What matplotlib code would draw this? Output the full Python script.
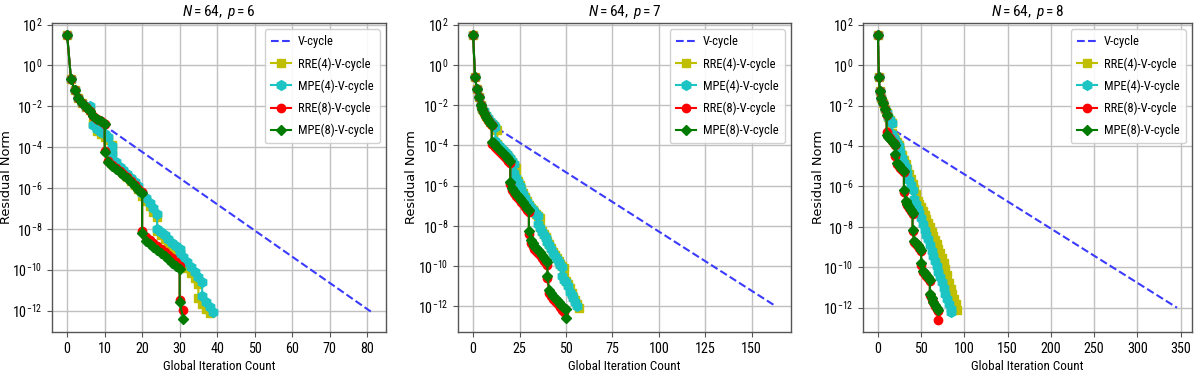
import numpy as np
import matplotlib
matplotlib.use("Agg")
import matplotlib.pyplot as plt
from matplotlib import font_manager

# ---------------- data (log10 of residual norm) ----------------
titles = [r"$N = 64,\ p = 6$", r"$N = 64,\ p = 7$", r"$N = 64,\ p = 8$"]
labels = ["V-cycle", "RRE(4)-V-cycle", "MPE(4)-V-cycle", "RRE(8)-V-cycle", "MPE(8)-V-cycle"]
xticks_list = [[0, 10, 20, 30, 40, 50, 60, 70, 80],
               [0, 25, 50, 75, 100, 125, 150],
               [0, 50, 100, 150, 200, 250, 300, 350]]
ytick_exps = [2, 0, -2, -4, -6, -8, -10, -12]

# ---- p = 6 ----
p6_vc_x = [0, 1, 2, 4, 6, 8, 10, 81]
p6_vc_y = [1.48, -0.65, -1.22, -1.85, -2.25, -2.6, -2.95, -12.05]

p6_rre4_x = [0, 1, 2, 3, 4, 5, 6, 7, 8, 9, 10, 11, 12, 12, 13, 14, 15, 16, 17, 18, 19, 20, 21, 22,
             23, 24, 24, 25, 26, 27, 28, 29, 30, 30, 31, 32, 33, 34, 35, 35, 36, 37, 38]
p6_rre4_y = [1.48, -0.65, -1.22, -1.6, -1.85, -2.05, -2.2, -2.8, -3.2, -3.35, -3.5, -3.65, -3.9,
             -4.3, -4.85, -5.05, -5.25, -5.45, -5.65, -5.85, -6.05, -6.4, -6.65, -6.9, -7.15, -7.4,
             -8.1, -8.3, -8.5, -8.7, -8.9, -9.05, -9.2, -9.4, -9.65, -9.9, -10.15, -10.4, -10.7,
             -11.4, -11.7, -11.9, -12.1]

p6_mpe4_x = [0, 1, 2, 3, 4, 5, 6, 7, 8, 9, 10, 11, 12, 12, 13, 14, 15, 16, 17, 18, 19, 20, 21, 22,
             23, 24, 24, 25, 26, 27, 28, 29, 30, 30, 31, 32, 33, 34, 35, 36, 36, 37, 38, 39]
p6_mpe4_y = [1.48, -0.65, -1.22, -1.6, -1.85, -2.05, -2.0, -2.9, -3.1, -3.25, -3.35, -3.5, -3.95,
             -4.3, -4.75, -4.95, -5.1, -5.3, -5.5, -5.7, -5.9, -6.25, -6.5, -6.75, -7.0, -7.25,
             -8.0, -8.15, -8.3, -8.5, -8.7, -8.85, -9.0, -9.2, -9.4, -9.6, -9.85, -10.1, -10.35,
             -10.6, -11.3, -11.6, -11.85, -12.05]

p6_rre8_x = [0, 1, 2, 3, 4, 5, 6, 7, 8, 9, 10, 10, 11, 12, 13, 14, 15, 16, 17, 18, 19, 20, 20, 21,
             22, 23, 24, 25, 26, 27, 28, 29, 30, 30, 31]
p6_rre8_y = [1.48, -0.65, -1.22, -1.6, -1.85, -2.05, -2.25, -2.45, -2.6, -2.72, -2.85, -4.2, -4.7,
             -4.85, -5.0, -5.15, -5.3, -5.45, -5.65, -5.85, -6.05, -6.2, -8.1, -8.4, -8.55, -8.7,
             -8.85, -9.0, -9.15, -9.3, -9.45, -9.6, -9.8, -11.5, -11.95]

p6_mpe8_x = [0, 1, 2, 3, 4, 5, 6, 7, 8, 9, 10, 10, 11, 12, 13, 14, 15, 16, 17, 18, 19, 20, 20, 21,
             22, 23, 24, 25, 26, 27, 28, 29, 30, 30, 31]
p6_mpe8_y = [1.48, -0.65, -1.22, -1.6, -1.85, -2.05, -2.25, -2.45, -2.6, -2.72, -2.85, -4.25, -4.75,
             -4.9, -5.05, -5.2, -5.35, -5.5, -5.7, -5.9, -6.1, -6.25, -8.2, -8.6, -8.75, -8.9,
             -9.05, -9.2, -9.35, -9.5, -9.65, -9.8, -9.95, -11.6, -12.4]

# ---- p = 7 ----
p7_vc_x = [0, 1, 2, 4, 6, 8, 10, 12, 163]
p7_vc_y = [1.47, -0.6, -1.2, -2.0, -2.4, -2.75, -2.95, -3.1, -12.0]

p7_rre4_x = [0, 1, 2, 3, 4, 5, 6, 7, 8, 9, 10, 11, 12, 13, 13, 14, 15, 16, 17, 18, 19, 20, 21, 22,
             23, 23, 24, 25, 26, 27, 28, 29, 30, 31, 32, 33, 34, 35, 36, 36, 37, 38, 39, 40, 41,
             42, 43, 44, 45, 46, 47, 48, 49, 49, 50, 51, 52, 53, 54, 55, 56, 57]
p7_rre4_y = [1.47, -0.6, -1.2, -1.6, -2.0, -2.2, -2.35, -2.55, -2.7, -2.85, -2.95, -3.05, -3.15,
             -3.25, -3.95, -4.1, -4.2, -4.3, -4.4, -4.5, -4.6, -4.7, -4.85, -5.0, -5.15, -5.55,
             -5.75, -5.95, -6.15, -6.35, -6.55, -6.75, -6.95, -7.1, -7.2, -7.3, -7.4, -7.5, -7.6,
             -8.05, -8.25, -8.4, -8.55, -8.75, -8.9, -9.1, -9.3, -9.45, -9.6, -9.75, -9.9, -10.0,
             -10.1, -10.55, -10.75, -10.9, -11.1, -11.35, -11.55, -11.7, -11.9, -12.1]

p7_mpe4_x = [0, 1, 2, 3, 4, 5, 6, 7, 8, 9, 10, 11, 12, 12, 13, 14, 15, 16, 17, 18, 19, 20, 21, 22,
             22, 23, 24, 25, 26, 27, 28, 29, 30, 31, 32, 33, 34, 35, 35, 36, 37, 38, 39, 40, 41,
             42, 43, 44, 45, 46, 47, 48, 48, 49, 50, 51, 52, 53, 54, 55, 56]
p7_mpe4_y = [1.47, -0.6, -1.2, -1.6, -2.0, -2.2, -2.3, -2.5, -2.65, -2.8, -2.9, -3.0, -3.1, -3.8,
             -3.95, -4.05, -4.15, -4.25, -4.35, -4.45, -4.55, -4.65, -4.8, -4.95, -5.4, -5.6,
             -5.8, -6.0, -6.2, -6.4, -6.6, -6.8, -6.95, -7.1, -7.2, -7.3, -7.4, -7.5, -7.9, -8.1,
             -8.3, -8.45, -8.6, -8.8, -8.95, -9.15, -9.35, -9.5, -9.65, -9.8, -9.95, -10.05,
             -10.5, -10.7, -10.8, -11.0, -11.3, -11.45, -11.6, -11.8, -12.0]

p7_rre8_x = [0, 1, 2, 3, 4, 5, 6, 7, 8, 9, 10, 10, 11, 12, 13, 14, 15, 16, 17, 18, 19, 20, 20, 21,
             22, 23, 24, 25, 26, 27, 28, 29, 30, 30, 31, 32, 33, 34, 35, 36, 37, 38, 39, 40, 40,
             41, 42, 43, 44, 45, 46, 47, 48, 49]
p7_rre8_y = [1.47, -0.6, -1.2, -1.6, -2.0, -2.2, -2.4, -2.6, -2.75, -2.9, -3.0, -3.95, -4.0, -4.1,
             -4.2, -4.3, -4.4, -4.5, -4.6, -4.7, -4.8, -4.9, -5.9, -6.2, -6.35, -6.5, -6.6, -6.7,
             -6.8, -6.9, -7.05, -7.2, -7.3, -8.4, -8.85, -9.0, -9.15, -9.25, -9.35, -9.45, -9.6,
             -9.75, -9.85, -9.95, -10.6, -11.35, -11.5, -11.65, -11.75, -11.85, -11.95, -12.05,
             -12.2, -12.3]

p7_mpe8_x = [0, 1, 2, 3, 4, 5, 6, 7, 8, 9, 10, 10, 11, 12, 13, 14, 15, 16, 17, 18, 19, 20, 20, 21,
             22, 23, 24, 25, 26, 27, 28, 29, 30, 30, 31, 32, 33, 34, 35, 36, 37, 38, 39, 40, 40,
             41, 42, 43, 44, 45, 46, 47, 48, 49, 50, 50]
p7_mpe8_y = [1.47, -0.6, -1.2, -1.6, -2.0, -2.2, -2.4, -2.6, -2.75, -2.9, -3.0, -3.85, -3.9, -4.0,
             -4.1, -4.2, -4.3, -4.4, -4.5, -4.6, -4.7, -4.8, -5.8, -6.1, -6.25, -6.4, -6.5, -6.6,
             -6.7, -6.8, -6.95, -7.1, -7.2, -8.25, -8.7, -8.85, -9.0, -9.1, -9.2, -9.3, -9.45,
             -9.6, -9.7, -9.8, -10.5, -11.2, -11.35, -11.5, -11.6, -11.7, -11.8, -11.9, -12.0,
             -12.1, -12.15, -12.6]

# ---- p = 8 ----
p8_vc_x = [0, 1, 2, 4, 6, 8, 10, 12, 14, 16, 346]
p8_vc_y = [1.5, -0.6, -1.3, -1.65, -1.9, -2.2, -2.5, -2.75, -3.0, -3.15, -12.0]

p8_rre4_x = [0, 1, 2, 4, 6, 8, 10, 12, 14, 16, 16, 18, 20, 22, 24, 26, 28, 30, 32, 34, 36, 38, 40,
             42, 44, 46, 48, 50, 52, 54, 56, 58, 60, 62, 64, 66, 68, 70, 72, 74, 76, 78, 80, 82,
             84, 86, 88, 90, 92]
p8_rre4_y = [1.5, -0.6, -1.3, -1.65, -1.9, -2.15, -2.35, -2.55, -2.7, -2.85, -3.35, -3.55, -3.7,
             -3.8, -3.95, -4.2, -4.45, -4.7, -4.9, -5.15, -5.4, -5.65, -5.9, -6.15, -6.4, -6.7,
             -6.85, -7.0, -7.2, -7.4, -7.6, -7.8, -8.0, -8.25, -8.45, -8.65, -8.85, -9.1, -9.3,
             -9.55, -9.8, -10.1, -10.4, -10.8, -11.05, -11.3, -11.55, -11.8, -12.1]

p8_mpe4_x = [0, 1, 2, 4, 6, 8, 10, 12, 14, 16, 16, 18, 20, 22, 24, 26, 28, 30, 32, 34, 36, 38, 40,
             42, 44, 46, 48, 50, 52, 54, 56, 58, 60, 62, 64, 66, 68, 70, 72, 74, 76, 78, 80, 82,
             84, 85]
p8_mpe4_y = [1.5, -0.6, -1.3, -1.65, -1.9, -2.15, -2.35, -2.55, -2.7, -2.85, -3.4, -3.6, -3.75,
             -3.85, -4.0, -4.3, -4.6, -4.85, -5.05, -5.35, -5.7, -5.95, -6.2, -6.6, -6.85, -7.1,
             -7.3, -7.55, -7.85, -8.15, -8.4, -8.6, -8.9, -9.2, -9.45, -9.7, -9.95, -10.25, -10.5,
             -10.75, -11.0, -11.3, -11.55, -11.8, -12.05, -12.2]

p8_rre8_x = [0, 1, 2, 4, 6, 8, 10, 10, 12, 14, 16, 18, 20, 20, 22, 24, 26, 28, 30, 30, 32, 34, 36,
             38, 40, 40, 42, 44, 46, 48, 50, 50, 52, 54, 56, 58, 60, 60, 62, 64, 66, 68, 69, 70]
p8_rre8_y = [1.5, -0.6, -1.3, -1.65, -1.9, -2.15, -2.45, -3.3, -3.5, -3.6, -3.75, -3.85, -3.95,
             -4.5, -4.9, -5.0, -5.1, -5.2, -5.3, -6.3, -6.75, -6.9, -7.05, -7.2, -7.35, -8.2,
             -8.75, -8.85, -8.95, -9.05, -9.2, -9.9, -10.25, -10.35, -10.45, -10.55, -10.7,
             -11.35, -11.55, -11.7, -11.9, -12.05, -12.15, -12.6]

p8_mpe8_x = [0, 1, 2, 4, 6, 8, 10, 10, 12, 14, 16, 18, 20, 20, 22, 24, 26, 28, 30, 30, 32, 34, 36,
             38, 40, 40, 42, 44, 46, 48, 50, 50, 52, 54, 56, 58, 60, 60, 62, 64, 66, 68, 69]
p8_mpe8_y = [1.5, -0.6, -1.3, -1.65, -1.9, -2.15, -2.45, -3.45, -3.55, -3.65, -3.75, -3.85, -3.95,
             -4.4, -4.85, -4.95, -5.05, -5.15, -5.25, -6.2, -6.7, -6.85, -7.0, -7.15, -7.3, -8.15,
             -8.7, -8.8, -8.9, -9.0, -9.15, -9.8, -10.2, -10.3, -10.4, -10.5, -10.65, -11.3,
             -11.5, -11.7, -11.85, -12.0, -12.1]

panels = [
    [(p6_vc_x, p6_vc_y), (p6_rre4_x, p6_rre4_y), (p6_mpe4_x, p6_mpe4_y),
     (p6_rre8_x, p6_rre8_y), (p6_mpe8_x, p6_mpe8_y)],
    [(p7_vc_x, p7_vc_y), (p7_rre4_x, p7_rre4_y), (p7_mpe4_x, p7_mpe4_y),
     (p7_rre8_x, p7_rre8_y), (p7_mpe8_x, p7_mpe8_y)],
    [(p8_vc_x, p8_vc_y), (p8_rre4_x, p8_rre4_y), (p8_mpe4_x, p8_mpe4_y),
     (p8_rre8_x, p8_rre8_y), (p8_mpe8_x, p8_mpe8_y)],
]
ylims_exp = [(-13.05, 2.08), (-13.28, 2.08), (-13.2, 2.08)]

# ---------------- fonts ----------------
names = {f.name for f in font_manager.fontManager.ttflist}
font = "DejaVu Sans"
scale = 1.0
for cand, sc in [("Liberation Sans Narrow", 1.2), ("Roboto Condensed", 1.2),
                 ("Liberation Sans", 1.0), ("Roboto", 1.0)]:
    if cand in names:
        font, scale = cand, sc
        break
plt.rcParams["font.family"] = [font, "DejaVu Sans"]
plt.rcParams["mathtext.fontset"] = "custom"
plt.rcParams["mathtext.rm"] = font
plt.rcParams["mathtext.it"] = font + ":italic"
plt.rcParams["mathtext.bf"] = font + ":bold"
plt.rcParams["mathtext.sf"] = font

# ---------------- styling ----------------
styles = [
    dict(color="#3b3bff", ls="--", lw=1.5, marker=None),
    dict(color="#bfbf00", ls="-", lw=1.5, marker="s", ms=6),
    dict(color="#1cc4c4", ls="-", lw=1.5, marker="h", ms=7),
    dict(color="#ff0000", ls="-", lw=1.5, marker="o", ms=6),
    dict(color="#007a00", ls="-", lw=1.5, marker="D", ms=5.5),
]

fig = plt.figure(figsize=(12, 3.76), dpi=100)
positions = [
    [52 / 1200, 1 - 332 / 376, 334 / 1200, 309 / 376],
    [458 / 1200, 1 - 332 / 376, 333 / 1200, 309 / 376],
    [863 / 1200, 1 - 332 / 376, 329 / 1200, 309 / 376],
]
ylabel_x = [-0.117, -0.12, -0.1155]

for i in range(3):
    ax = fig.add_axes(positions[i])
    for (xs, ly), lab, st in zip(panels[i], labels, styles):
        ax.semilogy(xs, 10.0 ** np.array(ly), label=lab, **st)
    ax.set_ylim(10.0 ** ylims_exp[i][0], 10.0 ** ylims_exp[i][1])
    ax.set_yticks([10.0 ** e for e in ytick_exps])
    ax.yaxis.set_minor_locator(matplotlib.ticker.NullLocator())
    ax.set_xticks(xticks_list[i])
    ax.grid(True, color="#c0c0c0", lw=1.0)
    ax.set_axisbelow(True)
    ax.tick_params(labelsize=8.5 * scale, color="#555555")
    for s in ax.spines.values():
        s.set_color("#555555")
        s.set_linewidth(1.0)
    ax.set_title(titles[i], fontsize=9.2 * scale, pad=5)
    ax.set_xlabel("Global Iteration Count", fontsize=7.8 * scale, labelpad=3)
    ax.set_ylabel("Residual Norm", fontsize=9.3, family="DejaVu Sans")
    ax.yaxis.set_label_coords(ylabel_x[i], 0.5)
    ax.legend(loc="upper right", fontsize=7.5 * scale, labelspacing=0.7, handlelength=1.6,
              handletextpad=0.55, borderpad=0.5, framealpha=0.9)

fig.savefig("out.png", dpi=100)
